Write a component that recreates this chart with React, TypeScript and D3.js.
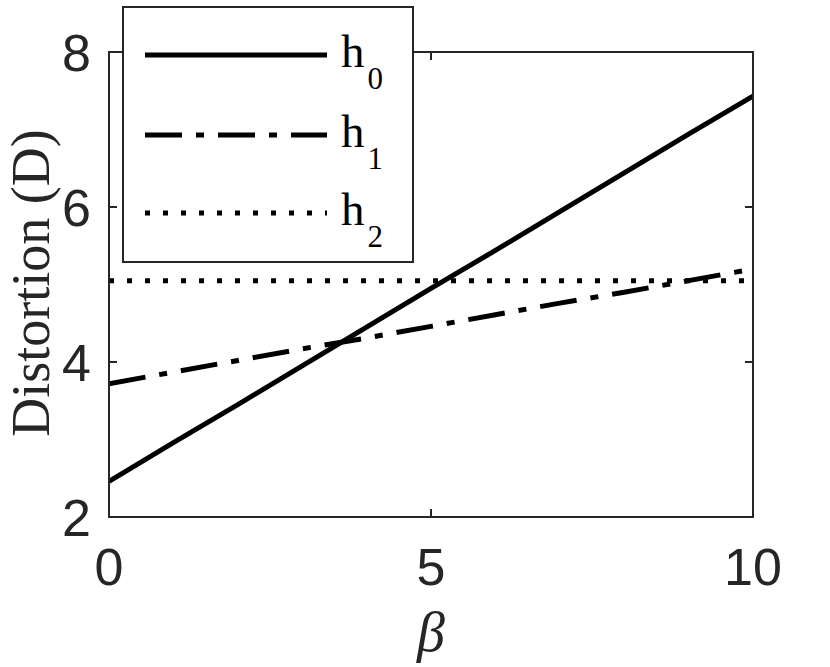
import React from "react";
import * as d3 from "d3";

const betaValues = [0, 1, 2, 3, 4, 5, 6, 7, 8, 9, 10];
const h0Values = [2.46, 2.96, 3.45, 3.95, 4.45, 4.95, 5.44, 5.94, 6.44, 6.94, 7.43];
const h1Values = [3.72, 3.87, 4.02, 4.17, 4.31, 4.46, 4.61, 4.76, 4.9, 5.05, 5.2];
const h2Values = [5.05, 5.05, 5.05, 5.05, 5.05, 5.05, 5.05, 5.05, 5.05, 5.05, 5.05];
const xTicks = [0, 5, 10];
const yTicks = [2, 4, 6, 8];
const seriesNames = ["0", "1", "2"];

const W = 830;
const H = 667;
const L = 109, R = 753, T = 52, B = 517;
const AX = "#262626";
const SANS = "'Liberation Sans', Arial, Helvetica, sans-serif";
const SERIF = "'Liberation Serif', 'Times New Roman', Times, serif";

export default function App() {
  const x = d3.scaleLinear().domain([0, 10]).range([L, R]);
  const y = d3.scaleLinear().domain([2, 8]).range([B, T]);
  const line = d3
    .line<[number, number]>()
    .x((d) => x(d[0]))
    .y((d) => y(d[1]));
  const series = [
    { vals: h0Values, dash: "none" },
    { vals: h1Values, dash: "37,14,8,14" },
    { vals: h2Values, dash: "5,13" },
  ];
  const legY = [55, 135, 213];
  const tickLen = 8;
  return (
    <svg
      width={W}
      height={H}
      style={{ position: "absolute", left: 0, top: 0, background: "#fff" }}
    >
      <rect x={0} y={0} width={W} height={H} fill="#fff" />
      <defs>
        <clipPath id="plotclip">
          <rect x={L} y={T - 3} width={R - L} height={B - T + 6} />
        </clipPath>
      </defs>
      <g clipPath="url(#plotclip)">
        {series.map((s, i) => (
          <path
            key={i}
            d={line(betaValues.map((b, j) => [b, s.vals[j]]) as [number, number][]) || ""}
            fill="none"
            stroke="#000"
            strokeWidth={5}
            strokeDasharray={s.dash}
          />
        ))}
      </g>
      <rect x={L} y={T} width={R - L} height={B - T} fill="none" stroke={AX} strokeWidth={2} />
      {xTicks.map((t) => (
        <g key={"xt" + t}>
          <line x1={x(t)} x2={x(t)} y1={B} y2={B - tickLen} stroke={AX} strokeWidth={2} />
          <line x1={x(t)} x2={x(t)} y1={T} y2={T + tickLen} stroke={AX} strokeWidth={2} />
          <text x={x(t)} y={585} textAnchor="middle" fontFamily={SANS} fontSize={52} fill={AX}>
            {t}
          </text>
        </g>
      ))}
      {yTicks.map((t) => (
        <g key={"yt" + t}>
          <line x1={L} x2={L + tickLen} y1={y(t)} y2={y(t)} stroke={AX} strokeWidth={2} />
          <line x1={R} x2={R - tickLen} y1={y(t)} y2={y(t)} stroke={AX} strokeWidth={2} />
          <text x={91} y={y(t) + 19} textAnchor="end" fontFamily={SANS} fontSize={52} fill={AX}>
            {t}
          </text>
        </g>
      ))}
      <text
        transform={`translate(49,283) rotate(-90)`}
        textAnchor="middle"
        fontFamily={SERIF}
        fontSize={54}
        fill={AX}
      >
        Distortion (D)
      </text>
      <text
        x={431}
        y={651}
        textAnchor="middle"
        fontFamily={SERIF}
        fontStyle="italic"
        fontSize={56}
        fill={AX}
      >
        β
      </text>
      <rect x={123} y={7} width={290} height={255} fill="#fff" stroke={AX} strokeWidth={2} />
      {series.map((s, i) => (
        <g key={"lg" + i}>
          <line
            x1={145}
            x2={327}
            y1={legY[i]}
            y2={legY[i]}
            stroke="#000"
            strokeWidth={5}
            strokeDasharray={s.dash}
          />
          <text x={341} y={legY[i] + 12} fontFamily={SERIF} fontSize={47} fill="#000">
            h
            <tspan fontSize={31} dx={3} dy={22}>
              {seriesNames[i]}
            </tspan>
          </text>
        </g>
      ))}
    </svg>
  );
}
